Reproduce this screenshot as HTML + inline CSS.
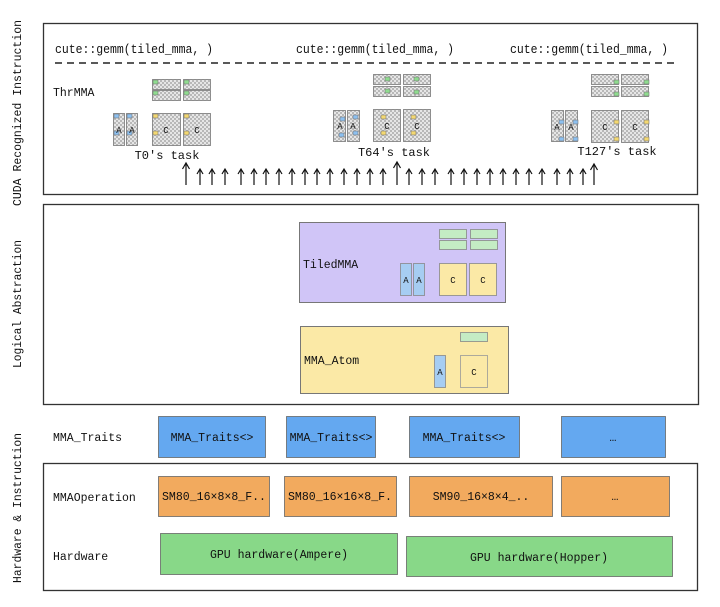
<!DOCTYPE html>
<html><head><meta charset="utf-8"><style>html,body{margin:0;padding:0;background:#fff}svg{display:block}text{font-family:"Liberation Mono","DejaVu Sans Mono",monospace;fill:#111}</style></head>
<body>
<svg width="720" height="607" viewBox="0 0 720 607" xmlns="http://www.w3.org/2000/svg">
<defs>
<pattern id="h" width="4" height="4" patternUnits="userSpaceOnUse">
<rect width="4" height="4" fill="#e6e6e6"/><rect width="2" height="2" fill="#b8b8b8"/><rect x="2" y="2" width="2" height="2" fill="#b8b8b8"/>
</pattern>
</defs>

<rect x="43.5" y="23.5" width="654" height="171" fill="#fff" stroke="#333" stroke-width="1.3"/>
<rect x="43.5" y="204.5" width="655" height="200" fill="#fff" stroke="#333" stroke-width="1.3"/>
<rect x="43.5" y="463.5" width="654" height="127" fill="#fff" stroke="#333" stroke-width="1.3"/>

<text transform="translate(21,113) rotate(-90)" font-size="11.5" text-anchor="middle" textLength="186" lengthAdjust="spacingAndGlyphs">CUDA Recognized Instruction</text>
<text transform="translate(21,304) rotate(-90)" font-size="11.5" text-anchor="middle" textLength="128" lengthAdjust="spacingAndGlyphs">Logical Abstraction</text>
<text transform="translate(21,508) rotate(-90)" font-size="11.5" text-anchor="middle" textLength="150" lengthAdjust="spacingAndGlyphs">Hardware &amp; Instruction</text>

<text x="55" y="53" font-size="12.5" textLength="158" lengthAdjust="spacingAndGlyphs">cute::gemm(tiled_mma, )</text>
<text x="296" y="53" font-size="12.5" textLength="158" lengthAdjust="spacingAndGlyphs">cute::gemm(tiled_mma, )</text>
<text x="510" y="53" font-size="12.5" textLength="158" lengthAdjust="spacingAndGlyphs">cute::gemm(tiled_mma, )</text>
<line x1="55" y1="63" x2="677" y2="63" stroke="#222" stroke-width="1.5" stroke-dasharray="7,5"/>
<text x="53" y="96" font-size="11.5">ThrMMA</text>

<!-- T0 -->
<g stroke="#777" stroke-width="0.8">
<rect x="152.5" y="79.5" width="28" height="10" fill="url(#h)"/><rect x="183.5" y="79.5" width="27" height="10" fill="url(#h)"/>
<rect x="152.5" y="90.5" width="28" height="10" fill="url(#h)"/><rect x="183.5" y="90.5" width="27" height="10" fill="url(#h)"/>
<rect x="113.5" y="113.5" width="11" height="32" fill="url(#h)"/><rect x="126.5" y="113.5" width="11" height="32" fill="url(#h)"/>
<rect x="152.5" y="113.5" width="28" height="32" fill="url(#h)"/><rect x="183.5" y="113.5" width="27" height="32" fill="url(#h)"/>
</g>
<g stroke="#777" stroke-width="0.6">
<rect x="153" y="80" width="5" height="4" fill="#8fdc8f"/><rect x="184" y="80" width="5" height="4" fill="#8fdc8f"/>
<rect x="153" y="91" width="5" height="4" fill="#8fdc8f"/><rect x="184" y="91" width="5" height="4" fill="#8fdc8f"/>
<rect x="114" y="114" width="5" height="4" fill="#8cc0f0"/><rect x="127" y="114" width="5" height="4" fill="#8cc0f0"/>
<rect x="114" y="131" width="5" height="4" fill="#8cc0f0"/><rect x="127" y="131" width="5" height="4" fill="#8cc0f0"/>
<rect x="153" y="114" width="5" height="4" fill="#f3d870"/><rect x="184" y="114" width="5" height="4" fill="#f3d870"/>
<rect x="153" y="131" width="5" height="4" fill="#f3d870"/><rect x="184" y="131" width="5" height="4" fill="#f3d870"/>
</g>
<text x="119" y="133" font-size="9" text-anchor="middle">A</text><text x="132" y="133" font-size="9" text-anchor="middle">A</text>
<text x="166" y="133" font-size="9" text-anchor="middle">C</text><text x="197" y="133" font-size="9" text-anchor="middle">C</text>
<text x="167" y="159" font-size="12" text-anchor="middle">T0's task</text>

<!-- T64 -->
<g stroke="#777" stroke-width="0.8">
<rect x="373.5" y="74.5" width="27" height="10" fill="url(#h)"/><rect x="403.5" y="74.5" width="27" height="10" fill="url(#h)"/>
<rect x="373.5" y="86.5" width="27" height="10" fill="url(#h)"/><rect x="403.5" y="86.5" width="27" height="10" fill="url(#h)"/>
<rect x="333.5" y="110.5" width="12" height="31" fill="url(#h)"/><rect x="347.5" y="110.5" width="12" height="31" fill="url(#h)"/>
<rect x="373.5" y="109.5" width="27" height="32" fill="url(#h)"/><rect x="403.5" y="109.5" width="27" height="32" fill="url(#h)"/>
</g>
<g stroke="#777" stroke-width="0.6">
<rect x="385" y="77" width="5" height="4" fill="#8fdc8f"/><rect x="414" y="77" width="5" height="4" fill="#8fdc8f"/>
<rect x="385" y="89" width="5" height="4" fill="#8fdc8f"/><rect x="414" y="90" width="5" height="4" fill="#8fdc8f"/>
<rect x="340" y="117" width="5" height="4" fill="#8cc0f0"/><rect x="353" y="115" width="5" height="4" fill="#8cc0f0"/>
<rect x="339" y="133" width="5" height="4" fill="#8cc0f0"/><rect x="353" y="131" width="5" height="4" fill="#8cc0f0"/>
<rect x="381" y="115" width="5" height="4" fill="#f3d870"/><rect x="411" y="115" width="5" height="4" fill="#f3d870"/>
<rect x="381" y="131" width="5" height="4" fill="#f3d870"/><rect x="411" y="131" width="5" height="4" fill="#f3d870"/>
</g>
<text x="340" y="129" font-size="9" text-anchor="middle">A</text><text x="353" y="129" font-size="9" text-anchor="middle">A</text>
<text x="387" y="129" font-size="9" text-anchor="middle">C</text><text x="417" y="129" font-size="9" text-anchor="middle">C</text>
<text x="394" y="156" font-size="12" text-anchor="middle">T64's task</text>

<!-- T127 -->
<g stroke="#777" stroke-width="0.8">
<rect x="591.5" y="74.5" width="27" height="10" fill="url(#h)"/><rect x="621.5" y="74.5" width="27" height="10" fill="url(#h)"/>
<rect x="591.5" y="86.5" width="27" height="10" fill="url(#h)"/><rect x="621.5" y="86.5" width="27" height="10" fill="url(#h)"/>
<rect x="551.5" y="110.5" width="12" height="31" fill="url(#h)"/><rect x="565.5" y="110.5" width="12" height="31" fill="url(#h)"/>
<rect x="591.5" y="110.5" width="27" height="32" fill="url(#h)"/><rect x="621.5" y="110.5" width="27" height="32" fill="url(#h)"/>
</g>
<g stroke="#777" stroke-width="0.6">
<rect x="614" y="80" width="5" height="4" fill="#8fdc8f"/><rect x="644" y="80" width="5" height="4" fill="#8fdc8f"/>
<rect x="614" y="92" width="5" height="4" fill="#8fdc8f"/><rect x="644" y="92" width="5" height="4" fill="#8fdc8f"/>
<rect x="559" y="120" width="5" height="4" fill="#8cc0f0"/><rect x="573" y="120" width="5" height="4" fill="#8cc0f0"/>
<rect x="559" y="137" width="5" height="4" fill="#8cc0f0"/><rect x="573" y="137" width="5" height="4" fill="#8cc0f0"/>
<rect x="614" y="120" width="5" height="4" fill="#f3d870"/><rect x="644" y="120" width="5" height="4" fill="#f3d870"/>
<rect x="614" y="137" width="5" height="4" fill="#f3d870"/><rect x="644" y="137" width="5" height="4" fill="#f3d870"/>
</g>
<text x="557" y="130" font-size="9" text-anchor="middle">A</text><text x="571" y="130" font-size="9" text-anchor="middle">A</text>
<text x="605" y="130" font-size="9" text-anchor="middle">C</text><text x="635" y="130" font-size="9" text-anchor="middle">C</text>
<text x="617" y="155" font-size="12" text-anchor="middle">T127's task</text>

<!-- arrows -->
<g stroke="#111" stroke-width="1.2" fill="none">
<path d="M186,185V163M182.5,169L186,163L189.5,169"/>
<path d="M200,185V169M197,174L200,169L203,174"/>
<path d="M212,185V169M209,174L212,169L215,174"/>
<path d="M225,185V169M222,174L225,169L228,174"/>
<path d="M241,185V169M238,174L241,169L244,174"/>
<path d="M254,185V169M251,174L254,169L257,174"/>
<path d="M266,185V169M263,174L266,169L269,174"/>
<path d="M279,185V169M276,174L279,169L282,174"/>
<path d="M292,185V169M289,174L292,169L295,174"/>
<path d="M305,185V169M302,174L305,169L308,174"/>
<path d="M317,185V169M314,174L317,169L320,174"/>
<path d="M330,185V169M327,174L330,169L333,174"/>
<path d="M344,185V169M341,174L344,169L347,174"/>
<path d="M357,185V169M354,174L357,169L360,174"/>
<path d="M370,185V169M367,174L370,169L373,174"/>
<path d="M383,185V169M380,174L383,169L386,174"/>
<path d="M397,185V162M393.5,168L397,162L400.5,168"/>
<path d="M409,185V169M406,174L409,169L412,174"/>
<path d="M422,185V169M419,174L422,169L425,174"/>
<path d="M435,185V169M432,174L435,169L438,174"/>
<path d="M451,185V169M448,174L451,169L454,174"/>
<path d="M464,185V169M461,174L464,169L467,174"/>
<path d="M477,185V169M474,174L477,169L480,174"/>
<path d="M490,185V169M487,174L490,169L493,174"/>
<path d="M503,185V169M500,174L503,169L506,174"/>
<path d="M516,185V169M513,174L516,169L519,174"/>
<path d="M529,185V169M526,174L529,169L532,174"/>
<path d="M542,185V169M539,174L542,169L545,174"/>
<path d="M557,185V169M554,174L557,169L560,174"/>
<path d="M570,185V169M567,174L570,169L573,174"/>
<path d="M583,185V169M580,174L583,169L586,174"/>
<path d="M594,185V164M590.5,170L594,164L597.5,170"/>
</g>

<!-- TiledMMA -->
<rect x="299.5" y="222.5" width="206" height="80" fill="#d0c5f7" stroke="#777"/>
<text x="303" y="268" font-size="11.5">TiledMMA</text>
<g stroke="#888" stroke-width="0.8">
<rect x="439.5" y="229.5" width="27" height="9" fill="#c4ecc4"/><rect x="470.5" y="229.5" width="27" height="9" fill="#c4ecc4"/>
<rect x="439.5" y="240.5" width="27" height="9" fill="#c4ecc4"/><rect x="470.5" y="240.5" width="27" height="9" fill="#c4ecc4"/>
<rect x="400.5" y="263.5" width="11" height="32" fill="#a6cdf2"/><rect x="413.5" y="263.5" width="11" height="32" fill="#a6cdf2"/>
<rect x="439.5" y="263.5" width="27" height="32" fill="#fbe9a6"/><rect x="469.5" y="263.5" width="27" height="32" fill="#fbe9a6"/>
</g>
<text x="406" y="283" font-size="9" text-anchor="middle">A</text><text x="419" y="283" font-size="9" text-anchor="middle">A</text>
<text x="453" y="283" font-size="9" text-anchor="middle">C</text><text x="483" y="283" font-size="9" text-anchor="middle">C</text>

<!-- MMA_Atom -->
<rect x="300.5" y="326.5" width="208" height="67" fill="#fbe9a6" stroke="#777"/>
<text x="304" y="364" font-size="11.5">MMA_Atom</text>
<g stroke="#888" stroke-width="0.8">
<rect x="460.5" y="332.5" width="27" height="9" fill="#c4ecc4"/>
<rect x="434.5" y="355.5" width="11" height="32" fill="#a6cdf2"/>
<rect x="460.5" y="355.5" width="27" height="32" fill="#fbe9a6" stroke="#999"/>
</g>
<text x="440" y="375" font-size="9" text-anchor="middle">A</text>
<text x="474" y="375" font-size="9" text-anchor="middle">C</text>

<text x="53" y="441" font-size="11.5">MMA_Traits</text>
<text x="53" y="501" font-size="11.5">MMAOperation</text>
<text x="53" y="560" font-size="11.5">Hardware</text>

<g stroke="#666" stroke-width="0.8" fill="#64a8f0">
<rect x="158.5" y="416.5" width="107" height="41"/><rect x="286.5" y="416.5" width="89" height="41"/>
<rect x="409.5" y="416.5" width="110" height="41"/><rect x="561.5" y="416.5" width="104" height="41"/>
</g>
<g font-size="11.5" text-anchor="middle">
<text x="212" y="441">MMA_Traits&lt;&gt;</text><text x="331" y="441">MMA_Traits&lt;&gt;</text>
<text x="464" y="441">MMA_Traits&lt;&gt;</text><text x="613" y="441">…</text>
</g>
<g stroke="#666" stroke-width="0.8" fill="#f2aa5e">
<rect x="158.5" y="476.5" width="111" height="40"/><rect x="284.5" y="476.5" width="112" height="40"/>
<rect x="409.5" y="476.5" width="143" height="40"/><rect x="561.5" y="476.5" width="108" height="40"/>
</g>
<g font-size="11.5" text-anchor="middle">
<text x="214" y="500" textLength="104" lengthAdjust="spacingAndGlyphs">SM80_16×8×8_F..</text>
<text x="340" y="500" textLength="104" lengthAdjust="spacingAndGlyphs">SM80_16×16×8_F.</text>
<text x="481" y="500">SM90_16×8×4_..</text>
<text x="615" y="500">…</text>
</g>
<g stroke="#666" stroke-width="0.8" fill="#88d888">
<rect x="160.5" y="533.5" width="237" height="41"/><rect x="406.5" y="536.5" width="266" height="40"/>
</g>
<g font-size="11.5" text-anchor="middle">
<text x="279" y="558">GPU hardware(Ampere)</text>
<text x="539" y="561">GPU hardware(Hopper)</text>
</g>
</svg>
</body></html>
